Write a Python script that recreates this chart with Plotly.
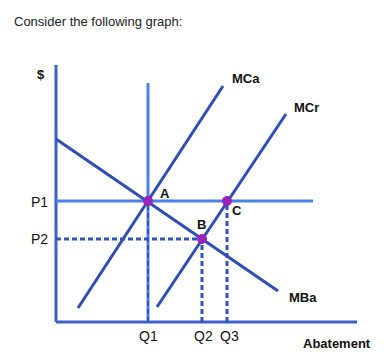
import plotly.graph_objects as go

# Abstract data units (quantity of abatement on x, $ on y)
Q1, Q2, Q3 = 9.2, 14.6, 17.1
P1, P2 = 12.1, 8.3

# Curves: [x list], [y list]
MBa_x, MBa_y = [0.0, 22.2], [18.3, 3.1]
MCa_x, MCa_y = [2.2, 16.7], [1.4, 23.6]
MCr_x, MCr_y = [10.1, 23.0], [1.5, 20.8]

X_AXIS_END = 30.1
Y_AXIS_END = 25.7
P1_LINE_END = 25.7
Q1_LINE_TOP = 23.9

points_x = [Q1, Q2, Q3]
points_y = [P1, P2, P1]
point_labels = ["A", "B", "C"]

CURVE = "#2f4db3"
LIGHT = "#4a80e8"
AXIS = "#3b62c8"
DASH = "#3352b5"
DOT = "#9b22bb"

fig = go.Figure()

def line(x, y, color, width=3, dash="solid"):
    fig.add_trace(go.Scatter(x=x, y=y, mode="lines",
                             line=dict(color=color, width=width, dash=dash),
                             hoverinfo="skip"))

# axes
line([0, 0], [0, Y_AXIS_END], AXIS)
line([0, X_AXIS_END], [0, 0], AXIS)
# P1 and Q1 solid lines
line([0, P1_LINE_END], [P1, P1], LIGHT)
line([Q1, Q1], [0, Q1_LINE_TOP], LIGHT)
line([Q1, Q1], [0, P1], DASH, width=2, dash="5px,3px")
# dashed guides
line([0, Q2], [P2, P2], DASH, dash="5px,3px")
line([Q2, Q2], [0, P2], DASH, dash="5px,3px")
line([Q3, Q3], [0, P1], DASH, dash="5px,3px")
# curves
line(MBa_x, MBa_y, CURVE)
line(MCa_x, MCa_y, CURVE)
line(MCr_x, MCr_y, CURVE)
# points
fig.add_trace(go.Scatter(x=points_x, y=points_y, mode="markers",
                         marker=dict(color=DOT, size=10),
                         hoverinfo="skip"))

FONT = "Liberation Sans, Arial, sans-serif"

def label(x, y, text, bold=False, size=13, xanchor="center"):
    fig.add_annotation(x=x, y=y, text=f"<b>{text}</b>" if bold else text,
                       showarrow=False, xanchor=xanchor, yanchor="middle",
                       font=dict(family=FONT, size=size, color="#111111"))

label(-1.55, 24.8, "$", bold=True)
label(19.0, 24.4, "MCa", bold=True)
label(25.0, 21.5, "MCr", bold=True)
label(24.7, 2.5, "MBa", bold=True)
label(28.1, -2.1, "Abatement", bold=True)
label(Q1 + 1.7, P1 + 0.8, point_labels[0], bold=True)
label(Q2 - 0.1, P2 + 1.5, point_labels[1], bold=True)
label(Q3 + 1.0, P1 - 0.9, point_labels[2], bold=True)
label(-1.7, P1 - 0.1, "P1", size=14)
label(-1.7, P2, "P2", size=14)
label(Q1, -1.4, "Q1", size=14)
label(Q2 + 0.1, -1.4, "Q2", size=14)
label(Q3 + 0.2, -1.4, "Q3", size=14)

fig.add_annotation(x=-4.45, y=30.1, text="Consider the following graph:",
                   showarrow=False, xanchor="left", yanchor="middle",
                   font=dict(family=FONT, size=13, color="#222222"))

fig.update_layout(
    width=384, height=356, autosize=False,
    margin=dict(l=0, r=0, t=0, b=0),
    plot_bgcolor="white", paper_bgcolor="white",
    showlegend=False,
    xaxis=dict(range=[-5.6, 32.8], visible=False, fixedrange=True),
    yaxis=dict(range=[-3.4, 32.2], visible=False, fixedrange=True),
)

fig.write_html("out.html", config={"displayModeBar": False})
